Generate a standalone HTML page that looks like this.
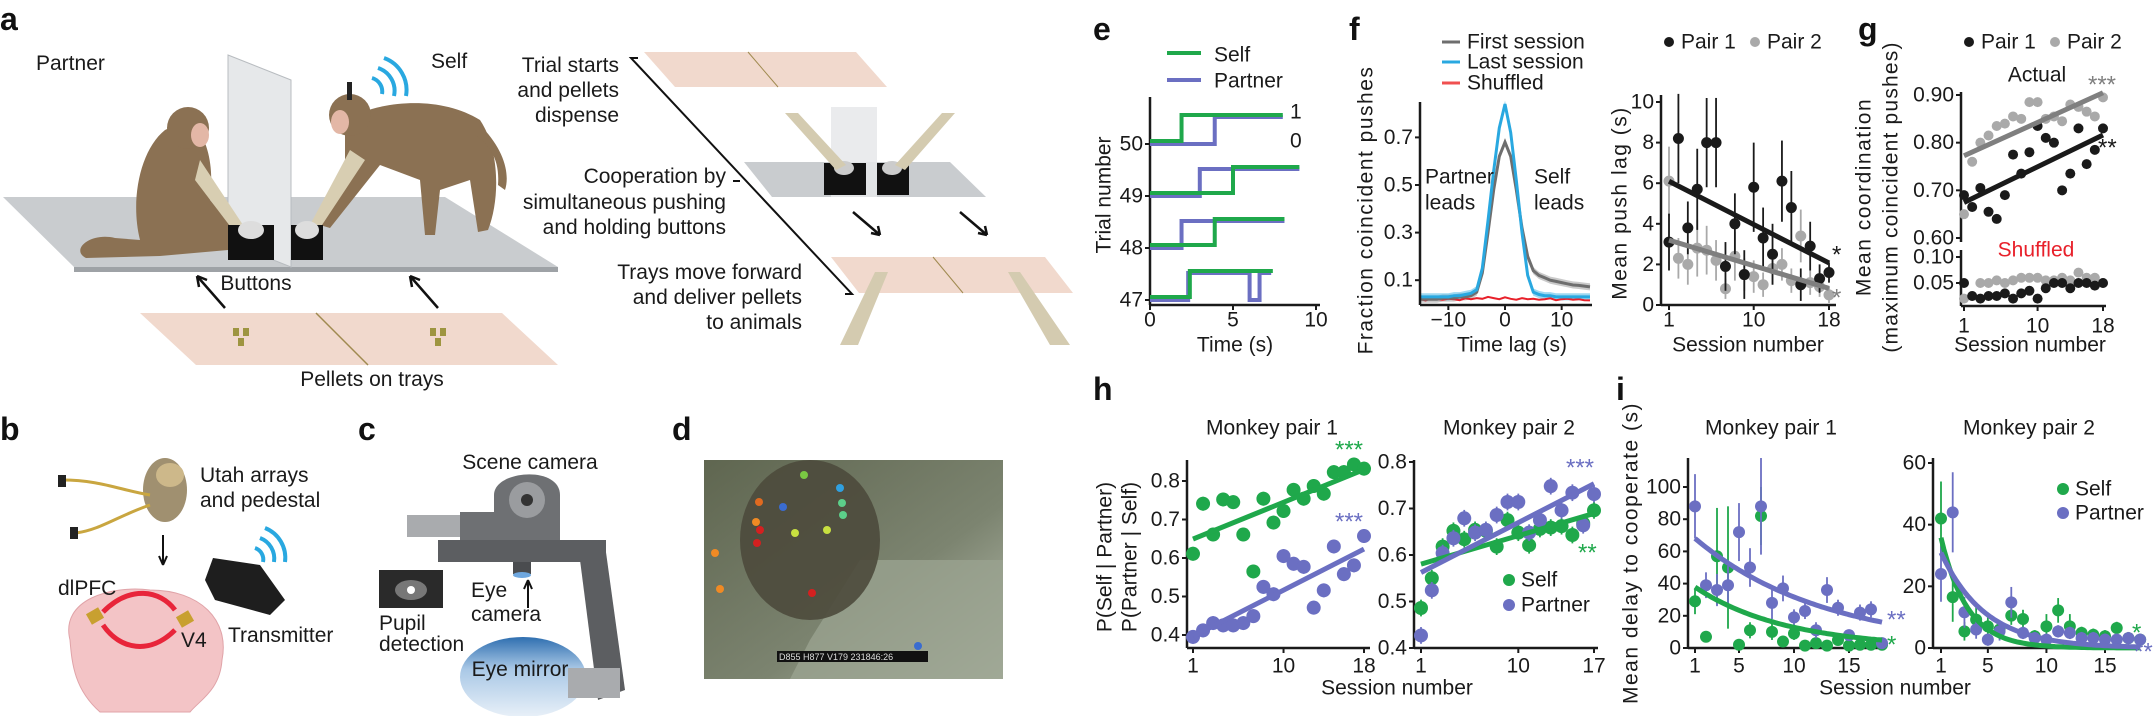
<!DOCTYPE html>
<html><head><meta charset="utf-8"><style>
html,body{margin:0;padding:0;background:#fff;}
svg{display:block;font-family:"Liberation Sans",Arial,sans-serif;}
.t{font-size:21px;fill:#1a1a1a;}
.L{font-size:32px;font-weight:bold;fill:#111;}
</style></head><body>
<svg id="fig" width="2156" height="716" viewBox="0 0 2156 716" xmlns="http://www.w3.org/2000/svg">
<defs>
<linearGradient id="mirrorGrad" x1="0" y1="0" x2="0" y2="1"><stop offset="0" stop-color="#2f6fb0"/><stop offset="0.4" stop-color="#a9c8e6"/><stop offset="1" stop-color="#e8f0f8"/></linearGradient>
<linearGradient id="photoGrad" x1="0" y1="0" x2="1" y2="1"><stop offset="0" stop-color="#5f6650"/><stop offset="0.6" stop-color="#7c8470"/><stop offset="1" stop-color="#b9c0b0"/></linearGradient>
</defs>
<!-- Panel a -->
<g>
<text class="L" x="0" y="30">a</text>
<text class="t" x="36" y="70">Partner</text>
<text class="t" x="431" y="68">Self</text>
<polygon points="3,197 445,197 558,267 74,267" fill="#c9cccf"/>
<polygon points="74,267 558,267 558,272 74,272" fill="#9ea2a6"/>
<polygon points="228,55 291,80 291,267 228,242" fill="#e6e8ea" stroke="#b8bcc0"/>
<g>
<path d="M86,258 C70,250 90,232 115,238 L140,240 C130,200 140,150 165,130 L190,118 C205,135 215,160 210,200 L235,230 L228,250 L160,256 Z" fill="#8b7153"/>
<circle cx="188" cy="128" r="21" fill="#8b7153"/><ellipse cx="200" cy="135" rx="9" ry="12" fill="#e3b7a6"/>
<path d="M200,160 L245,228 L236,234 L195,180 Z" fill="#d8ceb2"/>
</g>
<g>
<path d="M345,120 C380,100 440,95 480,120 C500,150 500,200 488,230 L478,232 L470,180 L440,190 L435,235 L425,235 L420,180 L380,165 L330,228 L320,225 L345,160 Z" fill="#8b7153"/>
<path d="M350,150 L310,225 L320,228 L365,160 Z" fill="#d8ceb2"/>
<path d="M480,125 C505,150 510,175 505,190 L498,185 C500,160 490,145 475,135 Z" fill="#8b7153"/>
<circle cx="350" cy="115" r="21" fill="#8b7153"/><ellipse cx="340" cy="122" rx="9" ry="12" fill="#e3b7a6"/>
<rect x="347" y="82" width="5" height="18" fill="#222"/>
<path d="M372,78 a14,14 0 0 1 10,16 M378,68 a24,24 0 0 1 16,28 M384,58 a34,34 0 0 1 22,38" fill="none" stroke="#29a8e0" stroke-width="4"/>
</g>
<rect x="228" y="225" width="46" height="35" fill="#111"/>
<ellipse cx="251" cy="230" rx="13" ry="9" fill="#ddd"/>
<rect x="291" y="225" width="32" height="35" fill="#111"/>
<ellipse cx="307" cy="230" rx="12" ry="9" fill="#ddd"/>
<text class="t" x="256" y="290" text-anchor="middle">Buttons</text>
<path d="M225,308 L197,276 M197,276 l2,11 M197,276 l10,4" stroke="#111" stroke-width="2.5" fill="none"/>
<path d="M438,308 L410,276 M410,276 l2,11 M410,276 l10,4" stroke="#111" stroke-width="2.5" fill="none"/>
<polygon points="140,313 502,313 558,365 196,365" fill="#f1d9cd"/>
<line x1="316" y1="313" x2="368" y2="365" stroke="#a08a50" stroke-width="1.5"/>
<g fill="#9e9540"><rect x="233" y="328" width="6" height="8"/><rect x="243" y="328" width="6" height="8"/><rect x="238" y="338" width="6" height="8"/><rect x="430" y="328" width="6" height="8"/><rect x="440" y="328" width="6" height="8"/><rect x="435" y="338" width="6" height="8"/></g>
<text class="t" x="372" y="386" text-anchor="middle">Pellets on trays</text>
<g class="t" text-anchor="end">
<text x="619" y="72" class="t">Trial starts</text><text x="619" y="97" class="t">and pellets</text><text x="619" y="122" class="t">dispense</text>
<text x="726" y="183" class="t">Cooperation by</text><text x="726" y="209" class="t">simultaneous pushing</text><text x="726" y="234" class="t">and holding buttons</text>
<text x="802" y="279" class="t">Trays move forward</text><text x="802" y="304" class="t">and deliver pellets</text><text x="802" y="329" class="t">to animals</text>
</g>
<path d="M638,58 L631,58 L852,294 L845,294 M733,181 L740,181" stroke="#111" stroke-width="2" fill="none"/>
<polygon points="644,52 856,52 887,87 675,87" fill="#f1d9cd"/>
<line x1="748" y1="52" x2="778" y2="87" stroke="#a08a50"/>
<polygon points="744,162 950,162 986,197 772,197" fill="#c9cccf"/>
<rect x="831" y="107" width="46" height="90" fill="#e6e8ea" opacity="0.85"/>
<rect x="824" y="163" width="42" height="32" fill="#111"/><rect x="877" y="163" width="32" height="32" fill="#111"/>
<ellipse cx="844" cy="168" rx="10" ry="7" fill="#ccc"/><ellipse cx="892" cy="168" rx="10" ry="7" fill="#ccc"/>
<path d="M785,113 L798,113 L846,165 L836,170 Z M955,113 L942,113 L895,165 L905,170 Z" fill="#d4cbb0"/>
<path d="M853,212 L880,235 M880,235 l-9,-2 M880,235 l-2,-9 M960,212 L987,235 M987,235 l-9,-2 M987,235 l-2,-9" stroke="#111" stroke-width="2.5" fill="none"/>
<polygon points="831,257 1045,257 1073,293 859,293" fill="#f1d9cd"/>
<line x1="933" y1="257" x2="963" y2="293" stroke="#a08a50"/>
<path d="M840,345 L875,272 L888,272 L858,345 Z M1070,345 L1020,272 L1008,272 L1050,345 Z" fill="#d4cbb0"/>
</g>
<!-- Panel b -->
<g>
<text class="L" x="0" y="440">b</text>
<ellipse cx="165" cy="490" rx="22" ry="32" fill="#a09070"/>
<ellipse cx="170" cy="475" rx="14" ry="12" fill="#cdb88a"/>
<path d="M150,495 C120,490 100,480 62,480 M150,505 C120,515 100,530 76,533" stroke="#c9a640" stroke-width="3" fill="none"/>
<rect x="58" y="475" width="8" height="12" fill="#222"/><rect x="70" y="527" width="8" height="12" fill="#222"/>
<text class="t" x="200" y="482">Utah arrays</text>
<text class="t" x="200" y="507">and pedestal</text>
<path d="M163,535 L163,565 M163,565 l-4,-9 M163,565 l4,-9" stroke="#111" stroke-width="2" fill="none"/>
<path d="M70,640 C60,600 110,585 150,590 C200,590 230,620 222,660 C220,690 200,700 190,712 L100,712 C75,690 72,665 70,640 Z" fill="#f3c4c6" stroke="#e0a3a8"/>
<rect x="88" y="610" width="14" height="12" fill="#c8a030" transform="rotate(-30 95 616)"/><rect x="178" y="613" width="14" height="12" fill="#c8a030" transform="rotate(-30 185 619)"/>
<path d="M103,612 C130,585 160,590 175,610 M175,630 C150,655 120,650 103,625" stroke="#e8253a" stroke-width="5" fill="none"/>
<text class="t" x="58" y="595">dlPFC</text>
<text class="t" x="181" y="647">V4</text>
<polygon points="213,558 260,565 285,600 270,615 215,600 205,580" fill="#1e1e1e"/>
<path d="M255,548 a12,12 0 0 1 8,14 M260,538 a22,22 0 0 1 14,24 M265,528 a32,32 0 0 1 20,34" fill="none" stroke="#29a8e0" stroke-width="4"/>
<text class="t" x="228" y="642">Transmitter</text>
</g>
<!-- Panel c -->
<g>
<text class="L" x="358" y="440">c</text>
<text class="t" x="530" y="469" text-anchor="middle">Scene camera</text>
<path d="M494,540 L494,495 C494,470 560,465 560,495 L560,540 Z" fill="#6e7073"/>
<circle cx="527" cy="500" r="18" fill="#9a9c9f"/><circle cx="527" cy="500" r="6" fill="#333"/>
<rect x="407" y="515" width="55" height="22" fill="#a9abae"/><rect x="460" y="512" width="35" height="28" fill="#6e7073"/>
<rect x="438" y="540" width="168" height="22" fill="#5c5e61"/>
<rect x="513" y="562" width="18" height="12" fill="#4a4c4f"/><ellipse cx="522" cy="575" rx="9" ry="3" fill="#6fa8e0"/>
<polygon points="580,560 605,545 625,690 598,700" fill="#5c5e61"/>
<rect x="379" y="570" width="64" height="38" fill="#2a2a2a"/>
<ellipse cx="411" cy="590" rx="16" ry="10" fill="#777"/><circle cx="411" cy="590" r="4" fill="#fff"/>
<text class="t" x="379" y="630">Pupil</text>
<text class="t" x="379" y="651">detection</text>
<text class="t" x="471" y="597">Eye</text>
<text class="t" x="471" y="621">camera</text>
<path d="M528,608 L528,580 M528,580 l-4,9 M528,580 l4,9" stroke="#111" stroke-width="2" fill="none"/>
<ellipse cx="523" cy="677" rx="63" ry="40" fill="url(#mirrorGrad)"/>
<rect x="568" y="668" width="52" height="30" fill="#a9abae"/>
<text class="t" x="520" y="676" text-anchor="middle">Eye mirror</text>
</g>
<!-- Panel d -->
<g>
<text class="L" x="672" y="440">d</text>
<rect x="704" y="460" width="299" height="219" fill="url(#photoGrad)"/>
<path d="M810,640 L860,560 L1003,560 L1003,679 L790,679 Z" fill="#9aa290" opacity="0.8"/>
<ellipse cx="810" cy="540" rx="70" ry="80" fill="#4c4a3c" opacity="0.9"/>
<g>
<circle cx="756" cy="522" r="4" fill="#f08a24"/><circle cx="760" cy="530" r="4" fill="#d42020"/><circle cx="783" cy="507" r="4" fill="#3a6cd0"/><circle cx="759" cy="502" r="4" fill="#e06a20"/><circle cx="804" cy="475" r="4" fill="#7ac943"/><circle cx="840" cy="488" r="4" fill="#30a0e0"/><circle cx="842" cy="503" r="4" fill="#5ccf8a"/><circle cx="843" cy="515" r="4" fill="#5ccf8a"/><circle cx="795" cy="533" r="4" fill="#c8e040"/><circle cx="827" cy="530" r="4" fill="#c8e040"/><circle cx="757" cy="543" r="4" fill="#d42020"/><circle cx="720" cy="589" r="4" fill="#f08a24"/><circle cx="715" cy="553" r="4" fill="#f08a24"/><circle cx="812" cy="593" r="4" fill="#d42020"/><circle cx="918" cy="646" r="4" fill="#3a6cd0"/>
</g>
<rect x="777" y="651" width="151" height="11" fill="#111"/>
<text x="779" y="660" font-size="9" fill="#ddd">D855 H877 V179    231846:26</text>
</g>
<g id="charts"></g>
</svg>
<script>
// ---------- DATA ----------
// Panel e
const eTrials = [50, 49, 48, 47];
const eSelfOn = [1.9, 5.0, 3.9, 2.4];
const eSelfOff = [8.0, 9.0, 8.1, 7.4];
const ePartnerOn = [3.9, 3.0, 1.9, 2.3];
const ePartnerOff = [8.0, 9.0, 8.1, 7.3];
const ePartnerGapStart = [null, null, null, 6.0];
const ePartnerGapEnd = [null, null, null, 6.6];
const eXTicks = [0, 5, 10];
const eYTicks = [50, 49, 48, 47];
// Panel f left
const fLags = [-15,-14,-13,-12,-11,-10,-9,-8,-7,-6,-5,-4,-3,-2,-1,0,1,2,3,4,5,6,7,8,9,10,11,12,13,14,15];
const fFirst = [0.02,0.02,0.02,0.02,0.025,0.025,0.025,0.03,0.03,0.035,0.05,0.13,0.3,0.48,0.62,0.68,0.62,0.48,0.32,0.2,0.14,0.12,0.11,0.10,0.095,0.09,0.085,0.08,0.078,0.075,0.072];
const fLast = [0.03,0.03,0.03,0.03,0.03,0.03,0.035,0.035,0.04,0.045,0.06,0.15,0.35,0.56,0.74,0.84,0.72,0.52,0.3,0.12,0.05,0.04,0.035,0.035,0.03,0.03,0.03,0.03,0.03,0.03,0.03];
const fShuf = [0.02,0.015,0.025,0.02,0.018,0.022,0.02,0.016,0.024,0.02,0.025,0.022,0.03,0.025,0.02,0.028,0.022,0.018,0.025,0.02,0.022,0.018,0.02,0.024,0.016,0.02,0.022,0.018,0.02,0.016,0.015];
const fXTicks = [-10, 0, 10];
const fYTicks = [0.1, 0.3, 0.5, 0.7];
// Panel f right
const lagSessions = [1,2,3,4,5,6,7,8,9,10,11,12,13,14,15,16,17,18];
const lagPair1 = [3.1,8.2,3.8,5.7,8.0,8.0,1.9,4.0,1.5,5.8,3.3,2.5,6.1,4.8,1.0,2.9,1.3,1.6];
const lagPair1Err = [1.4,2.2,1.3,2.0,2.2,2.2,1.2,1.5,1.2,2.2,1.5,1.5,2.0,1.8,0.8,1.2,0.7,0.5];
const lagPair2 = [6.1,2.3,2.0,2.8,2.7,2.2,0.8,2.4,1.5,1.4,1.0,1.8,2.0,1.2,3.4,1.1,0.9,0.5];
const lagPair2Err = [1.7,1.0,1.0,1.4,1.2,1.0,0.5,1.2,0.8,0.8,0.6,0.8,0.8,0.6,1.3,0.6,0.5,0.4];
const lagXTicks = [1, 10, 18];
const lagYTicks = [0, 2, 4, 6, 8, 10];
// Panel g
const gSessions = [1,2,3,4,5,6,7,8,9,10,11,12,13,14,15,16,17,18];
const gPair1 = [0.69,0.665,0.705,0.655,0.64,0.69,0.775,0.735,0.78,0.835,0.81,0.80,0.70,0.735,0.83,0.755,0.785,0.83];
const gPair2 = [0.65,0.76,0.80,0.815,0.835,0.84,0.855,0.85,0.885,0.885,0.85,0.855,0.845,0.88,0.875,0.865,0.855,0.895];
const gShufPair1 = [0.05,0.025,0.02,0.025,0.025,0.03,0.02,0.03,0.035,0.02,0.04,0.05,0.05,0.04,0.05,0.05,0.045,0.05];
const gShufPair2 = [0.02,0.025,0.05,0.05,0.055,0.05,0.055,0.06,0.06,0.06,0.055,0.055,0.06,0.055,0.07,0.06,0.06,0.05];
const gXTicks = [1, 10, 18];
const gYTicks = [0.60, 0.70, 0.80, 0.90];
const gShufYTicks = [0.05, 0.10];
// Panel h
const h1Sessions = [1,2,3,4,5,6,7,8,9,10,11,12,13,14,15,16,17,18];
const h1Self = [0.611,0.741,0.661,0.752,0.745,0.661,0.565,0.754,0.692,0.722,0.777,0.754,0.787,0.767,0.823,0.823,0.843,0.832];
const h1Partner = [0.395,0.412,0.431,0.425,0.425,0.431,0.449,0.525,0.506,0.605,0.585,0.577,0.471,0.516,0.630,0.558,0.581,0.657];
const h2Sessions = [1,2,3,4,5,6,7,8,9,10,11,12,13,14,15,16,17];
const h2Self = [0.486,0.55,0.618,0.652,0.634,0.654,0.652,0.618,0.675,0.648,0.621,0.656,0.659,0.662,0.643,0.668,0.696];
const h2Partner = [0.427,0.524,0.604,0.636,0.679,0.648,0.654,0.686,0.714,0.714,0.648,0.675,0.748,0.696,0.734,0.664,0.731];
const h1XTicks = [1, 10, 18];
const h2XTicks = [1, 10, 17];
const hYTicks = [0.4, 0.5, 0.6, 0.7, 0.8];
// Panel i
const iSessions = [1,2,3,4,5,6,7,8,9,10,11,12,13,14,15,16,17,18];
const i1Self = [29,7,57,50,2,11,82,10,4,9,1.5,3,1.5,5,1.5,2,2,2];
const i1SelfErr = [8,3,30,38,3,5,18,5,3,4,2,2,2,3,2,2,2,2];
const i1Partner = [88,39,36,39,72,50,88,28,37,19,23,11,36,25,8,22,24,3];
const i1PartnerErr = [20,8,10,12,18,12,30,10,8,5,5,5,8,5,3,5,5,3];
const i2Self = [42,16.5,5.4,9.2,7,6,10.5,9.4,3.8,7,12.2,7,4.9,4.3,3.8,6.5,3.2,2.7];
const i2SelfErr = [12,8,3,4,3,3,3,3,2,4,4,4,2,2,2,2,2,2];
const i2Partner = [24,44,11.6,6,2.7,5.4,14.8,4.9,3.2,2.7,5.4,4.9,3.2,3.2,2.7,2.7,3.2,2.7];
const i2PartnerErr = [9,13,5,3,2,3,5,2,2,2,2,2,2,2,2,2,2,2];
const iXTicks = [1, 5, 10, 15];
const i1YTicks = [0, 20, 40, 60, 80, 100];
const i2YTicks = [0, 20, 40, 60];

// ---------- HELPERS ----------
const NS = 'http://www.w3.org/2000/svg';
const root = document.getElementById('charts');
const GREEN = '#1fa84b', PURPLE = '#6b6fc2', BLACK = '#1a1a1a', GRAY = '#a9a9a9', DGRAY = '#7f7f7f';
function mk(tag, attrs, parent) {
  const e = document.createElementNS(NS, tag);
  for (const k in attrs) e.setAttribute(k, attrs[k]);
  (parent || root).appendChild(e);
  return e;
}
function lin(d0, d1, r0, r1) { return v => r0 + (v - d0) * (r1 - r0) / (d1 - d0); }
function txt(parent, x, y, s, anchor, extra) {
  const a = Object.assign({x: x, y: y, class: 't', 'text-anchor': anchor || 'start', 'dominant-baseline': 'central'}, extra || {});
  const t = mk('text', a, parent);
  t.textContent = s;
  return t;
}
function yAxis(g, ax, top, bottom, ticks, sy, fmt) {
  const l = mk('line', {x1: ax, y1: top, x2: ax, y2: bottom, stroke: BLACK, 'stroke-width': 2.5}, g);
  
  
  ticks.forEach(v => {
    const tk = mk('line', {x1: ax - 5, y1: sy(v), x2: ax, y2: sy(v), stroke: BLACK, 'stroke-width': 2}, g);
    
    
    const tl = txt(g, ax - 7, sy(v), fmt ? fmt(v) : String(v), 'end');
    
    
  });
}
function xAxis(g, ay, left, right, ticks, sx, labelY) {
  const l = mk('line', {x1: left, y1: ay, x2: right, y2: ay, stroke: BLACK, 'stroke-width': 2.5}, g);
  
  
  ticks.forEach(v => {
    const tk = mk('line', {x1: sx(v), y1: ay, x2: sx(v), y2: ay + 5, stroke: BLACK, 'stroke-width': 2}, g);
    
    
    const tl = txt(g, sx(v), labelY, String(v).replace('-', '\u2212'), 'middle');
    
    
  });
}
function rotLabel(g, x, y, s) {
  const t = txt(g, x, y, s, 'middle', {transform: 'rotate(-90 ' + x + ' ' + y + ')'});
  return t;
}
function fitLine(xs, ys) {
  const n = xs.length; let mx = 0, my = 0;
  for (let i = 0; i < n; i++) { mx += xs[i]; my += ys[i]; }
  mx /= n; my /= n; let sxy = 0, sxx = 0;
  for (let i = 0; i < n; i++) { sxy += (xs[i] - mx) * (ys[i] - my); sxx += (xs[i] - mx) * (xs[i] - mx); }
  const b = sxy / sxx; return {a: my - b * mx, b: b};
}
function fitExp(xs, ys) {
  let best = null;
  for (let k = 0.005; k < 2; k += 0.005) {
    let num = 0, den = 0;
    for (let i = 0; i < xs.length; i++) { const e = Math.exp(-k * (xs[i] - 1)); num += ys[i] * e; den += e * e; }
    const A = num / den; let sse = 0;
    for (let i = 0; i < xs.length; i++) { const r = ys[i] - A * Math.exp(-k * (xs[i] - 1)); sse += r * r; }
    if (!best || sse < best.sse) best = {A: A, k: k, sse: sse};
  }
  return best;
}
function dots(g, xs, ys, errs, sx, sy, color, r, name) {
  xs.forEach((x, i) => {
    if (errs) {
      const eb = mk('line', {x1: sx(x), x2: sx(x), y1: sy(ys[i] - errs[i]), y2: sy(ys[i] + errs[i]), stroke: color, 'stroke-width': 1.8}, g);
      
      
    }
    const c = mk('circle', {cx: sx(x), cy: sy(ys[i]), r: r, fill: color}, g);
    
    
  });
}
function regLine(g, xs, ys, sx, sy, color, w, name) {
  const f = fitLine(xs, ys);
  const x0 = xs[0], x1 = xs[xs.length - 1];
  const l = mk('line', {x1: sx(x0), y1: sy(f.a + f.b * x0), x2: sx(x1), y2: sy(f.a + f.b * x1), stroke: color, 'stroke-width': w}, g);
  
  
}
function expCurve(g, xs, ys, sx, sy, color, name) {
  const f = fitExp(xs, ys); let d = '';
  for (let x = xs[0]; x <= xs[xs.length - 1] + 1e-9; x += 0.25) d += (d ? 'L' : 'M') + sx(x).toFixed(1) + ',' + sy(f.A * Math.exp(-f.k * (x - 1))).toFixed(1);
  const p = mk('path', {d: d, fill: 'none', stroke: color, 'stroke-width': 5}, g);
  
  
}
function legendDot(g, x, y, color, label, r) {
  const c = mk('circle', {cx: x, cy: y, r: r || 6, fill: color}, g);
  
  
  const t = txt(g, x + 12, y, label, 'start');
  
  
}
function panelLetter(x, y, s) {
  const t = mk('text', {x: x, y: y, class: 'L'});
  t.textContent = s;
  
  
}
function stars(g, x, y, s, color) {
  const t = txt(g, x, y, s, 'start', {fill: color, style: 'fill:' + color + ';font-size:24px'});
  
  
}

// ---------- PANEL E ----------
(function () {
  panelLetter(1093, 40, 'e');
  const g = mk('g', {});
  
  
  const sx = lin(0, 10, 1150, 1316);
  const sy = t => 144 + (50 - t) * 52;
  const H = 27;
  yAxis(g, 1150, 97, 305, eYTicks, sy);
  xAxis(g, 305, 1150, 1320, eXTicks, sx, 320);
  eTrials.forEach((t, i) => {
    const b = sy(t) , hi = b - H;
    let dp = 'M' + sx(0) + ',' + b + 'H' + sx(ePartnerOn[i]) + 'V' + hi;
    if (ePartnerGapStart[i] != null) dp += 'H' + sx(ePartnerGapStart[i]) + 'V' + b + 'H' + sx(ePartnerGapEnd[i]) + 'V' + hi;
    dp += 'H' + sx(ePartnerOff[i]);
    const p = mk('path', {d: dp, fill: 'none', stroke: PURPLE, 'stroke-width': 4}, g);
    
    
    const ds = 'M' + sx(0) + ',' + (b - 3) + 'H' + sx(eSelfOn[i]) + 'V' + (hi - 2) + 'H' + sx(eSelfOff[i]);
    const s = mk('path', {d: ds, fill: 'none', stroke: GREEN, 'stroke-width': 4}, g);
    
    
  });
  const one = txt(g, 1290, 112, '1', 'start');  
  const zero = txt(g, 1290, 141, '0', 'start');  
  const l1 = mk('line', {x1: 1167, x2: 1201, y1: 53, y2: 53, stroke: GREEN, 'stroke-width': 4}, g);  
  const t1 = txt(g, 1214, 55, 'Self');  
  const l2 = mk('line', {x1: 1167, x2: 1201, y1: 80, y2: 80, stroke: PURPLE, 'stroke-width': 4}, g);  
  const t2 = txt(g, 1214, 81, 'Partner');  
  const yl = rotLabel(g, 1104, 195, 'Trial number');  
  const xl = txt(g, 1235, 345, 'Time (s)', 'middle');  
})();

// ---------- PANEL F ----------
(function () {
  panelLetter(1349, 40, 'f');
  const g = mk('g', {});
  
  
  const sx = lin(-15, 15, 1420, 1590), sy = lin(0, 0.1, 304, 280.2);
  function band(vals, color, name) {
    let top = '', bot = '';
    fLags.forEach((x, i) => { top += (i ? 'L' : 'M') + sx(x).toFixed(1) + ',' + sy(vals[i] + 0.015).toFixed(1); });
    for (let i = fLags.length - 1; i >= 0; i--) bot += 'L' + sx(fLags[i]).toFixed(1) + ',' + sy(vals[i] - 0.015).toFixed(1);
    const b = mk('path', {d: top + bot + 'Z', fill: color, opacity: 0.45}, g);
    
    
  }
  function line(vals, color, name, w) {
    let d = '';
    fLags.forEach((x, i) => { d += (i ? 'L' : 'M') + sx(x).toFixed(1) + ',' + sy(vals[i]).toFixed(1); });
    const p = mk('path', {d: d, fill: 'none', stroke: color, 'stroke-width': w}, g);
    
    
  }
  band(fFirst, '#8a8a8a', 'first-session');
  band(fLast, '#29a8e0', 'last-session');
  line(fShuf, '#e8202a', 'shuffled-line', 2);
  line(fFirst, '#6e6e6e', 'first-session-line', 3);
  line(fLast, '#29a8e0', 'last-session-line', 3);
  yAxis(g, 1420, 102, 305, fYTicks, sy);
  xAxis(g, 305, 1420, 1592, fXTicks, sx, 320);
  [['#6e6e6e', 'First session', 42], ['#29a8e0', 'Last session', 62], ['#f05050', 'Shuffled', 83]].forEach(e => {
    const l = mk('line', {x1: 1442, x2: 1460, y1: e[2], y2: e[2], stroke: e[0], 'stroke-width': 3}, g);
    
    
    const t = txt(g, 1467, e[2], e[1]);
    
    
  });
  [['Partner', 1425, 177], ['leads', 1425, 203], ['Self', 1534, 177], ['leads', 1534, 203]].forEach(a => {
    const t = txt(g, a[1], a[2], a[0]);
    
    
  });
  const yl = rotLabel(g, 1366, 210, 'Fraction coincident pushes');
  
  
  yl.setAttribute('letter-spacing', '1.5');
  const xl = txt(g, 1512, 345, 'Time lag (s)', 'middle');
  
  

  // push lag
  const g2 = mk('g', {});
  
  
  const px = lin(1, 18, 1669, 1829), py = lin(0, 10, 305, 102);
  yAxis(g2, 1661, 95, 305, lagYTicks, py);
  xAxis(g2, 305, 1661, 1836, lagXTicks, px, 320);
  dots(g2, lagSessions, lagPair2, lagPair2Err, px, py, GRAY, 5.5, 'pair2');
  dots(g2, lagSessions, lagPair1, lagPair1Err, px, py, BLACK, 5.5, 'pair1');
  regLine(g2, lagSessions, lagPair1, px, py, BLACK, 5, 'pair1-regression-line');
  regLine(g2, lagSessions, lagPair2, px, py, DGRAY, 5, 'pair2-regression-line');
  legendDot(g2, 1669, 42, BLACK, 'Pair 1', 5);
  legendDot(g2, 1755, 42, GRAY, 'Pair 2', 5);
  stars(g2, 1832, 255, '*', BLACK);
  stars(g2, 1832, 298, '*', DGRAY);
  const yl2 = rotLabel(g2, 1620, 203, 'Mean push lag (s)');
  
  
  yl2.setAttribute('letter-spacing', '1.5');
  const xl2 = txt(g2, 1748, 345, 'Session number', 'middle');
  
  
})();

// ---------- PANEL G ----------
(function () {
  panelLetter(1858, 40, 'g');
  const g = mk('g', {});
  
  
  const sx = lin(1, 18, 1964, 2103), sy = lin(0.6, 0.9, 238, 95), sy2 = lin(0, 0.1, 309, 257);
  const f2 = v => v.toFixed(2);
  yAxis(g, 1961, 92, 242, gYTicks, sy, f2);
  yAxis(g, 1961, 250, 306, gShufYTicks, sy2, f2);
  xAxis(g, 306, 1961, 2106, gXTicks, sx, 326);
  dots(g, gSessions, gPair2, null, sx, sy, GRAY, 5, 'pair2-actual');
  dots(g, gSessions, gPair1, null, sx, sy, BLACK, 5, 'pair1-actual');
  regLine(g, gSessions, gPair2, sx, sy, DGRAY, 5, 'pair2-regression-line');
  regLine(g, gSessions, gPair1, sx, sy, BLACK, 5, 'pair1-regression-line');
  dots(g, gSessions, gShufPair2, null, sx, sy2, GRAY, 5, 'pair2-shuffled');
  dots(g, gSessions, gShufPair1, null, sx, sy2, BLACK, 5, 'pair1-shuffled');
  legendDot(g, 1969, 42, BLACK, 'Pair 1', 5);
  legendDot(g, 2055, 42, GRAY, 'Pair 2', 5);
  const a = txt(g, 2037, 75, 'Actual', 'middle');  
  const s = txt(g, 2036, 250, 'Shuffled', 'middle', {style: 'fill:#e8202a'});  
  stars(g, 2088, 85, '***', DGRAY);
  stars(g, 2098, 148, '**', BLACK);
  const y1 = rotLabel(g, 1864, 197, 'Mean coordination');   y1.setAttribute('letter-spacing', '1.5');
  const y2 = rotLabel(g, 1891, 197, '(maximum coincident pushes)');   y2.setAttribute('letter-spacing', '1.2');
  const xl = txt(g, 2030, 345, 'Session number', 'middle');  
})();

// ---------- PANEL H ----------
(function () {
  panelLetter(1093, 400, 'h');
  const g = mk('g', {});
  
  
  const f1 = v => v.toFixed(1);
  const sx1 = lin(1, 18, 1193, 1364), sy1 = lin(0.4, 0.8, 635, 481);
  yAxis(g, 1187, 460, 648, hYTicks, sy1, f1);
  xAxis(g, 648, 1187, 1370, h1XTicks, sx1, 666);
  dots(g, h1Sessions, h1Self, h1Self.map(() => 0.018), sx1, sy1, GREEN, 7, 'pair1-self');
  dots(g, h1Sessions, h1Partner, h1Partner.map(() => 0.018), sx1, sy1, PURPLE, 7, 'pair1-partner');
  regLine(g, h1Sessions, h1Self, sx1, sy1, GREEN, 5, 'pair1-self-regression');
  regLine(g, h1Sessions, h1Partner, sx1, sy1, PURPLE, 5, 'pair1-partner-regression');
  const t1 = txt(g, 1272, 428, 'Monkey pair 1', 'middle');  
  stars(g, 1335, 450, '***', GREEN);
  stars(g, 1335, 522, '***', PURPLE);
  const ya = rotLabel(g, 1105, 557, 'P(Self | Partner)');  
  const yb = rotLabel(g, 1130, 557, 'P(Partner | Self)');  
  const sx2 = lin(1, 17, 1421, 1594), sy2 = lin(0.4, 0.8, 648, 462);
  yAxis(g, 1414, 460, 648, hYTicks, sy2, f1);
  xAxis(g, 648, 1414, 1598, h2XTicks, sx2, 666);
  dots(g, h2Sessions, h2Self, h2Self.map(() => 0.018), sx2, sy2, GREEN, 7, 'pair2-self');
  dots(g, h2Sessions, h2Partner, h2Partner.map(() => 0.018), sx2, sy2, PURPLE, 7, 'pair2-partner');
  regLine(g, h2Sessions, h2Self, sx2, sy2, GREEN, 5, 'pair2-self-regression');
  regLine(g, h2Sessions, h2Partner, sx2, sy2, PURPLE, 5, 'pair2-partner-regression');
  const t2 = txt(g, 1509, 428, 'Monkey pair 2', 'middle');  
  stars(g, 1566, 468, '***', PURPLE);
  stars(g, 1578, 553, '**', GREEN);
  legendDot(g, 1509, 580, GREEN, 'Self', 6);
  legendDot(g, 1509, 605, PURPLE, 'Partner', 6);
  const xl = txt(g, 1397, 688, 'Session number', 'middle');  
})();

// ---------- PANEL I ----------
(function () {
  panelLetter(1616, 400, 'i');
  const g = mk('g', {});
  
  
  const sx1 = lin(1, 15, 1695, 1849), sy1 = lin(0, 100, 648, 487);
  yAxis(g, 1688, 458, 648, i1YTicks, sy1);
  xAxis(g, 648, 1688, 1885, iXTicks, sx1, 666);
  dots(g, iSessions, i1Self, i1SelfErr, sx1, sy1, GREEN, 6, 'pair1-self');
  dots(g, iSessions, i1Partner, i1PartnerErr, sx1, sy1, PURPLE, 6, 'pair1-partner');
  expCurve(g, iSessions, i1Self, sx1, sy1, GREEN, 'pair1-self-fit');
  expCurve(g, iSessions, i1Partner, sx1, sy1, PURPLE, 'pair1-partner-fit');
  const t1 = txt(g, 1771, 428, 'Monkey pair 1', 'middle');  
  stars(g, 1887, 620, '**', PURPLE);
  stars(g, 1887, 645, '*', GREEN);
  const yl = rotLabel(g, 1631, 553, 'Mean delay to cooperate (s)');   yl.setAttribute('letter-spacing', '1.5');
  const sx2 = lin(1, 15, 1941, 2105), sy2 = lin(0, 60, 648, 463);
  yAxis(g, 1933, 458, 648, i2YTicks, sy2);
  xAxis(g, 648, 1933, 2140, iXTicks, sx2, 666);
  dots(g, iSessions, i2Self, i2SelfErr, sx2, sy2, GREEN, 6, 'pair2-self');
  dots(g, iSessions, i2Partner, i2PartnerErr, sx2, sy2, PURPLE, 6, 'pair2-partner');
  expCurve(g, iSessions, i2Self, sx2, sy2, GREEN, 'pair2-self-fit');
  expCurve(g, iSessions, i2Partner, sx2, sy2, PURPLE, 'pair2-partner-fit');
  const t2 = txt(g, 2029, 428, 'Monkey pair 2', 'middle');  
  stars(g, 2132, 633, '*', GREEN);
  stars(g, 2134, 652, '**', PURPLE);
  legendDot(g, 2063, 489, GREEN, 'Self', 6);
  legendDot(g, 2063, 513, PURPLE, 'Partner', 6);
  const xl = txt(g, 1895, 688, 'Session number', 'middle');  
})();
</script>
</body></html>
